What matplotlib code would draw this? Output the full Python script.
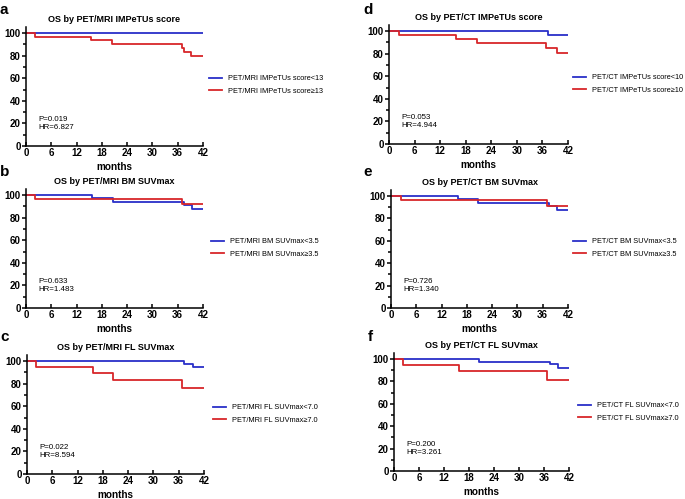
import matplotlib
matplotlib.use('Agg')
import matplotlib.pyplot as plt

plt.rcParams['font.family'] = ['Liberation Sans', 'DejaVu Sans']

BLUE = '#2a2fc8'
RED = '#d8262a'

# panel data: step times (months) and survival (%)
titles = ['OS by PET/MRI IMPeTUs score', 'OS by PET/MRI BM SUVmax', 'OS by PET/MRI FL SUVmax',
          'OS by PET/CT IMPeTUs score', 'OS by PET/CT BM SUVmax', 'OS by PET/CT FL SUVmax']
letters = ['a', 'b', 'c', 'd', 'e', 'f']
labels_low = ['PET/MRI IMPeTUs score<13', 'PET/MRI BM SUVmax<3.5', 'PET/MRI FL SUVmax<7.0',
              'PET/CT IMPeTUs score<10', 'PET/CT BM SUVmax<3.5', 'PET/CT FL SUVmax<7.0']
labels_high = ['PET/MRI IMPeTUs score\u226513', 'PET/MRI BM SUVmax\u22653.5', 'PET/MRI FL SUVmax\u22657.0',
               'PET/CT IMPeTUs score\u226510', 'PET/CT BM SUVmax\u22653.5', 'PET/CT FL SUVmax\u22657.0']
p_values = ['0.019', '0.633', '0.022', '0.053', '0.726', '0.200']
hr_values = ['6.827', '1.483', '8.594', '4.944', '1.340', '3.261']

a_low_t = [0, 42]
a_low_s = [100, 100]
a_high_t = [0, 2.2, 15.5, 20.3, 36.9, 37.4, 39.2, 42]
a_high_s = [100, 96.8, 93.5, 90.6, 87.0, 83.5, 79.5, 79.5]

b_low_t = [0, 15.7, 20.6, 37.4, 39.3, 42]
b_low_s = [100, 97.3, 93.8, 91.0, 87.3, 87.3]
b_high_t = [0, 2.2, 37.0, 42]
b_high_s = [100, 96.4, 92.0, 92.0]

c_low_t = [0, 37.3, 39.3, 42]
c_low_s = [100, 97.6, 94.4, 94.4]
c_high_t = [0, 2.2, 15.6, 20.5, 36.7, 42]
c_high_s = [100, 94.4, 89.1, 83.2, 75.8, 75.8]

d_low_t = [0, 37.4, 42]
d_low_s = [100, 96.8, 96.8]
d_high_t = [0, 2.35, 15.7, 20.6, 36.9, 39.4, 42]
d_high_s = [100, 96.8, 92.9, 89.4, 84.7, 80.5, 80.5]

e_low_t = [0, 15.8, 20.6, 37.4, 39.4, 42]
e_low_s = [100, 97.3, 94.0, 90.7, 87.6, 87.6]
e_high_t = [0, 2.45, 36.9, 42]
e_high_s = [100, 96.1, 91.0, 91.0]

f_low_t = [0, 20.4, 37.4, 39.4, 42]
f_low_s = [100, 97.6, 95.2, 92.2, 92.2]
f_high_t = [0, 2.1, 15.5, 36.8, 42]
f_high_s = [100, 94.9, 89.0, 81.5, 81.5]

curves = [(a_low_t, a_low_s, a_high_t, a_high_s), (b_low_t, b_low_s, b_high_t, b_high_s),
          (c_low_t, c_low_s, c_high_t, c_high_s), (d_low_t, d_low_s, d_high_t, d_high_s),
          (e_low_t, e_low_s, e_high_t, e_high_s), (f_low_t, f_low_s, f_high_t, f_high_s)]

W, H = 685, 499
# pixel layout: left, right, y of 100, y of 0, letter x/y, legend line x, legend y
layout = [
    (26, 203, 33, 146, 0, 10, 209, 85),
    (26, 203, 195, 308, 0, 172, 211, 248),
    (27, 204, 361, 474, 0, 337, 213, 414),
    (389, 568, 31, 144, 363, 10, 573, 84),
    (391, 568, 196, 308, 363, 172, 573, 248),
    (394, 569, 359, 471, 368, 337, 578, 412),
]

fig = plt.figure(figsize=(W / 100, H / 100), dpi=100)

for i in range(6):
    l, r, y100, y0, lx, ly, legx, legy = layout[i]
    ph = (y0 - y100) / 100.0
    top = y100 - 5 * ph
    ax = fig.add_axes([l / W, 1 - y0 / H, (r - l) / W, (y0 - top) / H])
    lt, ls, ht, hs = curves[i]
    ax.step(lt, ls, where='post', color=BLUE, lw=1.3, label=labels_low[i])
    ax.step(ht, hs, where='post', color=RED, lw=1.3, label=labels_high[i])
    ax.set_xlim(0, 42)
    ax.set_ylim(0, 105)
    ax.set_xticks(range(0, 43, 6))
    ax.set_yticks(range(0, 101, 20))
    ax.set_yticks(range(10, 100, 20), minor=True)
    ax.spines['top'].set_visible(False)
    ax.spines['right'].set_visible(False)
    for s in ['left', 'bottom']:
        ax.spines[s].set_linewidth(1.1)
    ax.tick_params(axis='y', which='major', length=3, width=1.1, labelsize=7, pad=0.8)
    ax.tick_params(axis='y', which='minor', length=2.2, width=1.1)
    # x ticks point up into the plot, as in the original
    ax.tick_params(axis='x', which='major', direction='in', length=3, width=1.1,
                   labelsize=7, pad=1.5)
    for t in ax.get_xticklabels() + ax.get_yticklabels():
        t.set_fontweight('bold')
    ax.set_title(titles[i], fontsize=6.5, fontweight='bold', pad=4)
    ax.set_xlabel('months', fontsize=7.2, fontweight='bold', labelpad=3)
    ax.text(3, 20, 'P=' + p_values[i] + '\nHR=' + hr_values[i], fontsize=5.7,
            va='center', ha='left', linespacing=1.15)
    fig.text(lx / W, 1 - ly / H, letters[i], fontsize=11, fontweight='bold',
             ha='left', va='center')
    ax.legend(loc='center left', bbox_to_anchor=(legx / W, 1 - legy / H),
              bbox_transform=fig.transFigure, frameon=False, fontsize=5.3,
              handlelength=1.7, handletextpad=0.9, borderpad=0, borderaxespad=0,
              labelspacing=0.75)

fig.savefig('out.png', dpi=100)
